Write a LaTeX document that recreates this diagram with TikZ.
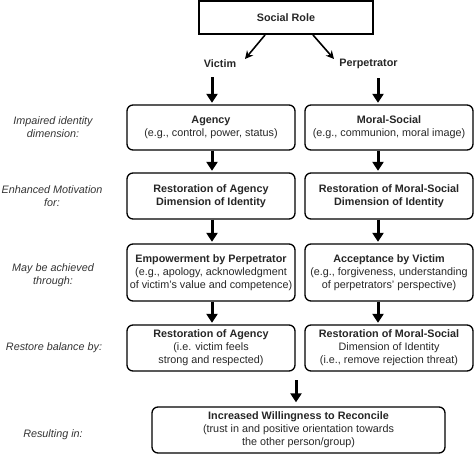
\documentclass[tikz,border=0pt]{standalone}
\usepackage{fontspec}
\setmainfont{Liberation Sans}
\usetikzlibrary{arrows.meta,calc}
\begin{document}
\begin{tikzpicture}[x=1pt,y=-1pt,
  every node/.style={font=\fontsize{10.8}{12.8}\selectfont, text=black!85},
  sqbox/.style={draw, line width=1.3pt, minimum width=174pt, minimum height=33pt, inner sep=0pt},
  rbox/.style={draw, line width=1.3pt, rounded corners=6pt, minimum width=168pt, inner sep=0pt, align=center},
  fbox/.style={rbox, minimum width=293pt, minimum height=46pt},
  side/.style={align=center, font=\fontsize{10.8}{12.8}\selectfont\itshape, text=black!80},
  role/.style={font=\fontsize{10.8}{12.8}\selectfont\bfseries, inner sep=1pt},
  bigarrow/.style={line width=3pt, -{Triangle[width=11pt,length=9pt]}},
  thinarrow/.style={line width=1.6pt, -{Stealth[width=8pt,length=8pt]}}
]
\useasboundingbox (0,0) rectangle (474,454);
% top
\node[sqbox, font=\fontsize{10.8}{12.8}\selectfont\bfseries] (sr) at (286,17.5) {Social Role};
\node[role] (vic) at (220,64) {Victim};
\node[role] (per) at (368.5,64) {Perpetrator};
\coordinate (sl) at (265,35);
\coordinate (sr2) at (313,35);
\coordinate (vl) at (245,59);
\coordinate (pr) at (334,59);
\draw[thinarrow] (sl) -- (vl);
\draw[thinarrow] (sr2) -- (pr);
% columns
\coordinate (lx) at (212,0);
\coordinate (rx) at (378,0);
% row 1
\node[rbox, minimum height=45pt] (a1) at (211,127.5) {\textbf{Agency}\\(e.g., control, power, status)};
\node[rbox, minimum height=45pt] (b1) at (389,127.5) {\textbf{Moral-Social}\\(e.g., communion, moral image)};
% row 2
\node[rbox, minimum height=46pt] (a2) at (211,196) {\textbf{Restoration of Agency}\\\textbf{Dimension of Identity}};
\node[rbox, minimum height=46pt] (b2) at (389,196) {\textbf{Restoration of Moral-Social}\\\textbf{Dimension of Identity}};
% row 3
\node[rbox, minimum height=57pt] (a3) at (211,272.5) {\textbf{Empowerment by Perpetrator}\\(e.g., apology, acknowledgment\\of victim’s value and competence)};
\node[rbox, minimum height=57pt] (b3) at (389,272.5) {\textbf{Acceptance by Victim}\\(e.g., forgiveness, understanding\\of perpetrators’ perspective)};
% row 4
\node[rbox, minimum height=46pt] (a4) at (211,348) {\textbf{Restoration of Agency}\\(i.e. victim feels\\strong and respected)};
\node[rbox, minimum height=46pt] (b4) at (389,348) {\textbf{Restoration of Moral-Social}\\Dimension of Identity\\(i.e., remove rejection threat)};
% final
\node[fbox] (fin) at (298.5,430) {\textbf{Increased Willingness to Reconcile}\\(trust in and positive orientation towards\\the other person/group)};
% side labels
\node[side] (s1) at (53,127) {Impaired identity\\dimension:};
\node[side] (s2) at (52,196) {Enhanced Motivation\\for:};
\node[side] (s3) at (53,275) {May be achieved\\through:};
\node[side] (s4) at (54,348) {Restore balance by:};
\node[side] (s5) at (53,435) {Resulting in:};
% thick arrows
\draw[bigarrow] ($(vic.south -| lx)+(0,8)$) -- ($(a1.north -| lx)+(0,-1.5)$);
\draw[bigarrow] ($(per.south -| rx)+(0,8)$) -- ($(b1.north -| rx)+(0,-1.5)$);
\foreach \u/\v in {a1/a2,a2/a3,a3/a4}{
  \draw[bigarrow] (\u.south -| lx) -- ($(\v.north -| lx)+(0,-1.5)$);
}
\foreach \u/\v in {b1/b2,b2/b3,b3/b4}{
  \draw[bigarrow] (\u.south -| rx) -- ($(\v.north -| rx)+(0,-1.5)$);
}
\coordinate (fa) at (296,380);
\draw[bigarrow] (fa) -- ($(fa |- fin.north)+(0,-4)$);
\end{tikzpicture}
\end{document}
